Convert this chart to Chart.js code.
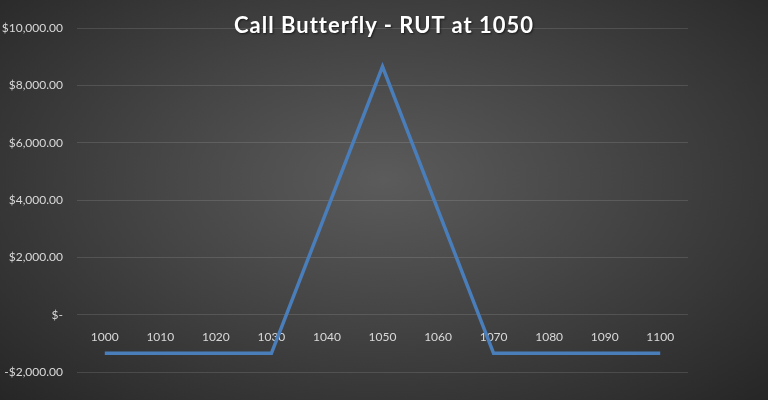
<!DOCTYPE html>
<html>
<head>
<meta charset="utf-8">
<script src="https://cdn.jsdelivr.net/npm/chart.js@4.4.1/dist/chart.umd.min.js"></script>
<style>
  html, body { margin: 0; padding: 0; }
  #wrap {
    position: relative;
    width: 768px;
    height: 400px;
    background: radial-gradient(ellipse at 50% 45%, #5b5b5b 0%, #444 45%, #262626 100%);
  }
  #title {
    position: absolute;
    left: 0; right: 0; top: 11px;
    text-align: center;
    font-family: Lato, "Open Sans", sans-serif;
    font-weight: bold;
    font-size: 22px;
    color: #fff;
    text-shadow: 1px 1px 2px rgba(0,0,0,0.6);
    letter-spacing: 1px;
  }
</style>
</head>
<body>
<div id="wrap">
  <canvas id="myChart" width="768" height="400"></canvas>
  <div id="title">Call Butterfly - RUT at 1050</div>
</div>
<script>
const strikes = ['1000', '1010', '1020', '1030', '1040', '1050', '1060', '1070', '1080', '1090', '1100'];
const profit = [-1350, -1350, -1350, -1350, 3650, 8650, 3650, -1350, -1350, -1350, -1350];
const yMin = -2000;
const yMax = 10000;
const yStep = 2000;

function money(v) {
  if (v === 0) return '$-';
  const s = '$' + Math.abs(v).toLocaleString('en-US', { minimumFractionDigits: 2, maximumFractionDigits: 2 });
  return v < 0 ? '-' + s : s;
}

const ctx = document.getElementById('myChart').getContext('2d');
new Chart(ctx, {
  type: 'line',
  data: {
    labels: strikes,
    datasets: [{
      label: 'P/L',
      data: profit,
      borderColor: '#4a7ebb',
      borderWidth: 3.5,
      pointRadius: 0,
      tension: 0,
      fill: false
    }]
  },
  options: {
    responsive: false,
    animation: false,
    layout: { padding: { top: 28, right: 80, bottom: 28, left: 0 } },
    plugins: {
      legend: { display: false },
      title: { display: false },
      tooltip: { enabled: false }
    },
    scales: {
      x: {
        position: { y: 0 },
        offset: true,
        grid: { display: false },
        border: { display: false },
        ticks: {
          color: '#d9d9d9',
          font: { family: 'Lato', size: 12 },
          padding: 7,
          maxRotation: 0
        }
      },
      y: {
        min: yMin,
        max: yMax,
        afterFit: function (scale) { scale.width = 77; },
        grid: { color: 'rgba(255,255,255,0.12)', lineWidth: 1, drawTicks: false },
        border: { display: false },
        ticks: {
          stepSize: yStep,
          color: '#d9d9d9',
          font: { family: 'Lato', size: 12 },
          padding: 14,
          callback: function (v) { return money(v); }
        }
      }
    }
  }
});
</script>
</body>
</html>
